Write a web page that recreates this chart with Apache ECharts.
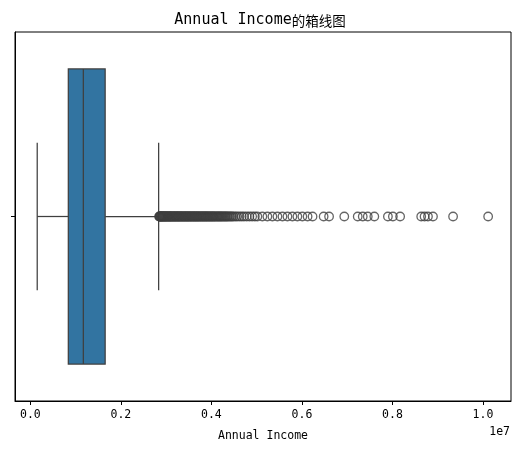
<!DOCTYPE html>
<html>
<head>
<meta charset="utf-8">
<script src="https://cdn.jsdelivr.net/npm/echarts@6.0.0/dist/echarts.min.js"></script>
<style>
  html, body { margin: 0; padding: 0; background: #fff; }
  #chart { width: 520px; height: 451px; }
</style>
</head>
<body>
<div id="chart"></div>
<script>
// box summary: [lower whisker, Q1, median, Q3, upper whisker]
const categories = [''];
const boxStats = [151000, 838000, 1170000, 1652000, 2834000];

// outliers beyond the upper whisker (dense run first, then the sparse tail)
const outliers = [
  2845000, 2852000, 2860000, 2868000, 2876000, 2885000, 2894000, 2903000,
  2912000, 2921000, 2930000, 2940000, 2950000, 2960000, 2970000, 2980000,
  2990000, 3000000, 3011000, 3022000, 3033000, 3044000, 3055000, 3066000,
  3077000, 3088000, 3099000, 3110000, 3122000, 3134000, 3146000, 3158000,
  3170000, 3182000, 3194000, 3206000, 3218000, 3230000, 3242000, 3254000,
  3266000, 3278000, 3290000, 3302000, 3315000, 3328000, 3341000, 3354000,
  3367000, 3380000, 3393000, 3406000, 3419000, 3432000, 3445000, 3458000,
  3471000, 3484000, 3497000, 3510000, 3524000, 3538000, 3552000, 3566000,
  3580000, 3594000, 3608000, 3622000, 3636000, 3650000, 3664000, 3678000,
  3692000, 3706000, 3720000, 3735000, 3750000, 3765000, 3780000, 3795000,
  3810000, 3825000, 3840000, 3855000, 3870000, 3885000, 3900000, 3916000,
  3932000, 3948000, 3964000, 3980000, 3996000, 4012000, 4028000, 4044000,
  4060000, 4078000, 4096000, 4114000, 4132000, 4150000, 4168000, 4186000,
  4204000, 4222000, 4240000, 4260000, 4280000, 4300000, 4320000, 4340000,
  4360000, 4385000, 4410000, 4435000, 4460000, 4490000, 4530000, 4570000,
  4620000, 4670000, 4720000, 4780000, 4840000, 4900000, 4960000,
  5016000, 5126000, 5237000, 5348000, 5459000, 5570000, 5680000, 5790000,
  5900000, 6010000, 6125000, 6235000, 6480000, 6600000, 6936000, 7233000,
  7344000, 7455000, 7600000, 7900000, 8010000, 8170000, 8636000, 8710000,
  8785000, 8896000, 9340000, 10115000
];

const tickValues = [0, 2000000, 4000000, 6000000, 8000000, 10000000];

const boxColor = '#3274a1';
const edgeColor = '#3f3f3f';
const monoFont = '"DejaVu Sans Mono", "Noto Sans CJK SC", monospace';

const chart = echarts.init(document.getElementById('chart'));

const option = {
  animation: false,
  title: {
    text: '{a|Annual Income}{b|的箱线图}',
    left: 'center',
    top: 8,
    textStyle: {
      fontWeight: 'normal',
      rich: {
        a: { fontFamily: monoFont, fontSize: 15, fontWeight: 'normal', color: '#000' },
        b: { fontFamily: '"Noto Sans CJK SC", sans-serif', fontSize: 13.5, fontWeight: 'normal', color: '#000' },
      },
    },
  },
  grid: {
    left: 15,
    right: 9,
    top: 32,
    bottom: 50,
    outerBoundsMode: 'none',
    show: true,
    borderColor: '#000',
    borderWidth: 1,
    backgroundColor: 'transparent',
  },
  xAxis: {
    type: 'value',
    min: -340000,
    max: 10620000,
    name: 'Annual Income',
    nameLocation: 'middle',
    nameGap: 29,
    nameTextStyle: { fontFamily: monoFont, fontSize: 11.5, color: '#000' },
    axisLine: { show: true, onZero: false, lineStyle: { color: '#000', width: 1 } },
    axisTick: { show: true, length: 4, customValues: tickValues, lineStyle: { color: '#000' } },
    axisLabel: {
      customValues: tickValues,
      margin: 8,
      fontFamily: monoFont,
      fontSize: 11.5,
      color: '#000',
      formatter: (v) => (v / 1e7).toFixed(1),
    },
    splitLine: { show: false },
  },
  yAxis: {
    type: 'category',
    data: categories,
    axisLine: { show: true, onZero: false, lineStyle: { color: '#000', width: 1 } },
    axisTick: { show: true, length: 4, alignWithLabel: true, lineStyle: { color: '#000' } },
    axisLabel: { show: true },
    splitLine: { show: false },
  },
  graphic: [
    {
      type: 'text',
      right: 10,
      top: 426,
      style: { text: '1e7', font: '11.5px ' + monoFont, fill: '#000' },
    },
  ],
  series: [
    {
      type: 'custom',
      data: [[0].concat(boxStats)],
      encode: { x: [1, 2, 3, 4, 5], y: 0 },
      renderItem: function (params, api) {
        const cat = api.value(0);
        const band = api.size([0, 1])[1];
        const half = band * 0.4;
        const cap = band * 0.2;
        const lo = api.coord([api.value(1), cat]);
        const q1 = api.coord([api.value(2), cat]);
        const med = api.coord([api.value(3), cat]);
        const q3 = api.coord([api.value(4), cat]);
        const hi = api.coord([api.value(5), cat]);
        const cy = q1[1];
        const ls = { stroke: edgeColor, lineWidth: 1.25 };
        return {
          type: 'group',
          children: [
            { type: 'line', shape: { x1: lo[0], y1: cy, x2: q1[0], y2: cy }, style: ls },
            { type: 'line', shape: { x1: q3[0], y1: cy, x2: hi[0], y2: cy }, style: ls },
            { type: 'line', shape: { x1: lo[0], y1: cy - cap, x2: lo[0], y2: cy + cap }, style: ls },
            { type: 'line', shape: { x1: hi[0], y1: cy - cap, x2: hi[0], y2: cy + cap }, style: ls },
            {
              type: 'rect',
              shape: { x: q1[0], y: cy - half, width: q3[0] - q1[0], height: half * 2 },
              style: { fill: boxColor, stroke: edgeColor, lineWidth: 1.25 },
            },
            { type: 'line', shape: { x1: med[0], y1: cy - half, x2: med[0], y2: cy + half }, style: ls },
          ],
        };
      },
    },
    {
      type: 'scatter',
      data: outliers.map((v) => [v, 0]),
      symbol: 'circle',
      symbolSize: 8.5,
      itemStyle: { color: 'rgba(0,0,0,0)', borderColor: edgeColor, borderWidth: 1.3 },
    },
  ],
};

chart.setOption(option);
</script>
</body>
</html>
